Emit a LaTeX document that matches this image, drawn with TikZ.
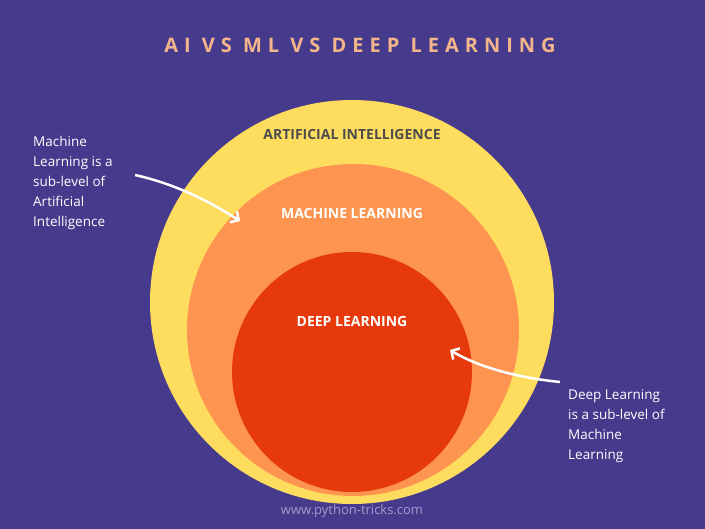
\documentclass[tikz,border=0pt]{standalone}
\usepackage{fontspec}
\setmainfont{Open Sans}
\newfontfamily\ttlfont[LetterSpace=30]{Open Sans}
\usetikzlibrary{arrows.meta}
\definecolor{bg}{HTML}{463A8C}
\definecolor{ttl}{HTML}{F3B58A}
\definecolor{yel}{HTML}{FEDC5E}
\definecolor{org}{HTML}{FD9550}
\definecolor{redc}{HTML}{E63A0C}
\definecolor{ftr}{HTML}{A49ACB}
\tikzset{side/.style={text=white,font=\fontsize{13.5}{20}\selectfont,align=left,anchor=north west,inner sep=0},
 lab/.style={font=\bfseries\fontsize{14}{16}\selectfont},
 arr/.style={white,line width=2.5pt,-{Straight Barb[length=6pt,width=13pt]}}}
\begin{document}
\begin{tikzpicture}[x=1pt,y=-1pt]
\fill[bg] (0,0) rectangle (705,529);
\useasboundingbox (0,0) rectangle (705,529);
\node[text=ttl,font=\ttlfont\bfseries\fontsize{20}{22}\selectfont] (title) at (360,45) {AI VS ML VS DEEP LEARNING};
\fill[yel] (352,302) circle (202);
\fill[org] (353,330) circle (166);
\fill[redc] (352,372) circle (120);
\node[lab,text=black!70] (ai) at (352,135) {ARTIFICIAL INTELLIGENCE};
\node[lab,text=white] (ml) at (352,214) {MACHINE LEARNING};
\node[lab,text=white] (dl) at (352,322) {DEEP LEARNING};
\node[side] (lt) at (33,136) {Machine\\Learning is a\\sub-level of\\Artificial\\Intelligence};
\node[side] (rt) at (568,389) {Deep Learning\\is a sub-level of\\Machine\\Learning};
\coordinate (a1) at (135,175);
\coordinate (a2) at (240,221);
\coordinate (b1) at (560,382);
\coordinate (b2) at (450,350);
\draw[arr] (a1) .. controls (180,185) and (215,205) .. (a2);
\draw[arr] (b1) .. controls (520,378) and (480,368) .. (b2);
\node[text=ftr,font=\fontsize{13}{15}\selectfont] (foot) at (352,511) {www.python-tricks.com};
\end{tikzpicture}
\end{document}
